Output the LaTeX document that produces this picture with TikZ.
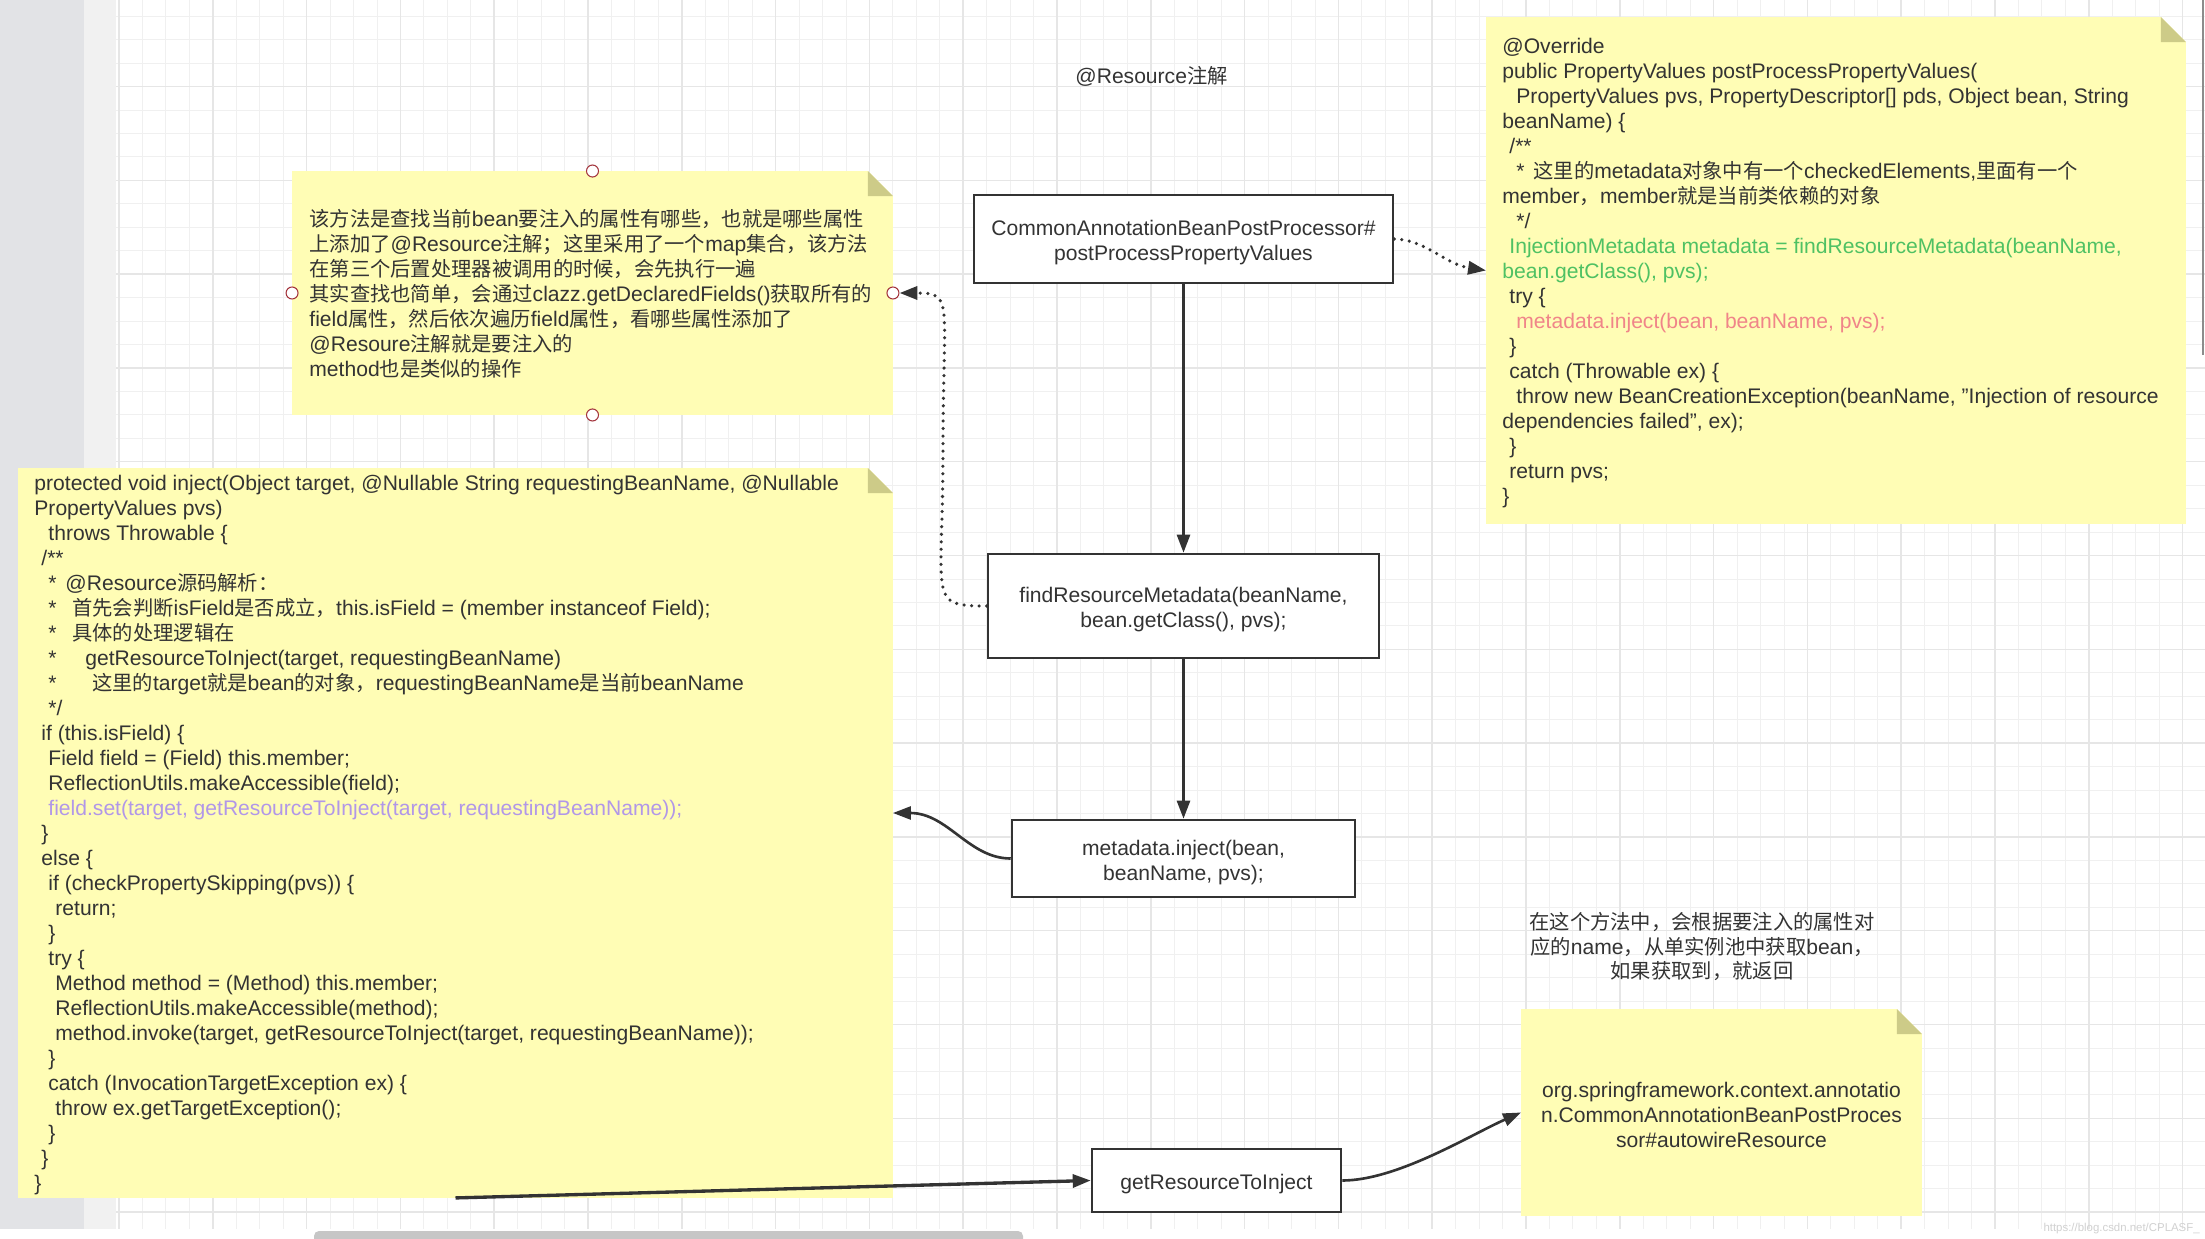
\documentclass[tikz,border=0pt]{standalone}
\usepackage{fontspec}
\setmainfont{Liberation Sans}
\newfontfamily\cjkfont[Scale=0.963]{Noto Sans CJK SC}
\newfontfamily\latinfont{Liberation Sans}
\usetikzlibrary{arrows.meta}

\definecolor{textgray}{HTML}{333333}
\definecolor{linegray}{HTML}{333333}
\definecolor{notefill}{HTML}{FFFDB5}
\definecolor{foldfill}{HTML}{CDCB88}
\definecolor{portred}{HTML}{A3343C}
\definecolor{codegreen}{HTML}{4FC163}
\definecolor{codepink}{HTML}{F08589}
\definecolor{codepurple}{HTML}{B197E8}
\definecolor{minorgrid}{HTML}{F0F0F0}
\definecolor{majorgrid}{HTML}{E6E6E6}
\definecolor{stripgray}{HTML}{E2E3E6}
\definecolor{stripwhite}{HTML}{F1F1F1}
\definecolor{scrollgray}{HTML}{C6C6C6}

% troca de fonte para os caracteres chineses
\newcount\cjkc
\newcommand\setcjkrange[2]{\cjkc=#1\relax
  \loop\XeTeXcharclass\cjkc=7\relax\advance\cjkc by 1\relax\ifnum\cjkc<#2\relax\repeat}
\setcjkrange{"3000}{"3040}
\setcjkrange{"4E00}{"A000}
\setcjkrange{"FF00}{"FFF0}
\XeTeXinterchartoks 0 7 = {\cjkfont}
\XeTeXinterchartoks 4095 7 = {\cjkfont}
\XeTeXinterchartoks 7 0 = {\latinfont}
\XeTeXinterchartoks 7 4095 = {\latinfont}
\XeTeXinterchartokenstate=1

\newcommand\topstrut{\rule{0pt}{0.9em}}
\newcommand\boxstrut{\rule{0pt}{1.1em}}
\newcommand\indA{\hspace*{0.14cm}}
\newcommand\indB{\hspace*{0.28cm}}
\newcommand\indC{\hspace*{0.42cm}}

\begin{document}
\begin{tikzpicture}[x=0.02cm, y=-0.02cm,
    >={Triangle[length=0.36cm, width=0.26cm]},
    txt/.style={font=\fontsize{12pt}{14.226pt}\selectfont, text=textgray, inner sep=0pt},
    proc/.style={txt, draw=linegray, line width=1.5pt, fill=white, align=center},
    notebox/.style={inner sep=0pt, outer sep=0pt},
    port/.style={circle, draw=portred, fill=white, line width=0.6pt, inner sep=0pt, minimum size=0.24cm},
    link/.style={->, draw=linegray, line width=1.5pt},
    dotlink/.style={link, line width=2pt, line cap=round, dash pattern=on 0pt off 4.3pt},
    minorline/.style={draw=minorgrid, line width=0.5pt},
    majorline/.style={draw=majorgrid, line width=0.9pt}]
  \useasboundingbox (0,0) rectangle (2205,1239);
  \fill[white] (0,0) rectangle (2205,1239);

  % Fundo e grade
  \fill[stripgray] (0,0) rectangle (84,1229);
  \fill[stripwhite] (84,0) rectangle (116,1229);
  \foreach \i in {-60,...,28}
    \draw[minorline] ({1526+\i*23.45},0) -- ++(0,1229);
  \foreach \j in {-27,...,24}
    \draw[minorline] (116,{649.3+\j*23.45}) -- (2205,{649.3+\j*23.45});
  \foreach \i in {-15,...,7}
    \draw[majorline] ({1526+\i*93.8},0) -- ++(0,1229);
  \foreach \j in {-6,...,6}
    \draw[majorline] (116,{649.3+\j*93.8}) -- (2205,{649.3+\j*93.8});
  \fill[scrollgray, rounded corners=0.1cm] (314,1231) rectangle (1023,1248);
  \draw[draw=black!45, line width=0.8pt] (2203,0) -- (2203,355);

  % Notas
  \node[notebox, minimum width=12.02cm, minimum height=4.88cm] (noteA) at (592.5,293) {};
  \node[notebox, minimum width=17.5cm, minimum height=14.6cm] (noteB) at (455.5,833) {};
  \node[notebox, minimum width=14cm, minimum height=10.14cm] (noteC) at (1836,270.5) {};
  \node[notebox, minimum width=8.02cm, minimum height=4.14cm] (noteD) at (1721.5,1112.5) {};
  \foreach \n in {noteA,noteB,noteC,noteD} {
    \fill[notefill] (\n.north west) -- ([xshift=-0.5cm]\n.north east) -- ([yshift=-0.5cm]\n.north east)
      -- (\n.south east) -- (\n.south west) -- cycle;
    \fill[foldfill] ([xshift=-0.5cm]\n.north east) -- ([xshift=-0.5cm,yshift=-0.5cm]\n.north east)
      -- ([yshift=-0.5cm]\n.north east) -- cycle;
  }

  % Pontos de ligacao da primeira nota
  \foreach \a/\nm in {north/pn,south/ps,west/pw,east/pe}
    \node[port] (\nm) at (noteA.\a) {};

  % Titulo
  \node[txt] (title) at (1151.5,76) {@Resource注解};

  % Caixas
  \node[proc, minimum width=8.38cm, minimum height=1.76cm] (postproc) at (1183.5,239)
    {\boxstrut CommonAnnotationBeanPostProcessor\#\\postProcessPropertyValues};
  \node[proc, minimum width=7.82cm, minimum height=2.08cm] (findmeta) at (1183.5,606)
    {\boxstrut findResourceMetadata(beanName,\\bean.getClass(), pvs);};
  \node[proc, minimum width=6.86cm, minimum height=1.54cm] (injectmeta) at (1183.5,858.5)
    {\boxstrut metadata.inject(bean,\\beanName, pvs);};
  \node[proc, minimum width=4.98cm, minimum height=1.26cm] (getres) at (1216.5,1180.5)
    {\boxstrut getResourceToInject};

  % Textos das notas
  \node[txt, align=left, anchor=north west] (noteAtxt) at ([xshift=0.34cm,yshift=-0.73cm]noteA.north west)
    {\topstrut 该方法是查找当前bean要注入的属性有哪些，也就是哪些属性\\
     上添加了@Resource注解；这里采用了一个map集合，该方法\\
     在第三个后置处理器被调用的时候，会先执行一遍\\
     其实查找也简单，会通过clazz.getDeclaredFields()获取所有的\\
     field属性，然后依次遍历field属性，看哪些属性添加了\\
     @Resoure注解就是要注入的\\
     method也是类似的操作};

  \node[txt, align=left, anchor=north west] (noteBtxt) at ([xshift=0.32cm,yshift=-0.06cm]noteB.north west)
    {\topstrut protected void inject(Object target, @Nullable String requestingBeanName, @Nullable\\
     PropertyValues pvs)\\
     \indB throws Throwable \{\\
     \indA /**\\
     \indB\makebox[0.34cm][l]{*}@Resource源码解析：\\
     \indB\makebox[0.476cm][l]{*}首先会判断isField是否成立，this.isField = (member instanceof Field);\\
     \indB\makebox[0.476cm][l]{*}具体的处理逻辑在\\
     \indB\makebox[0.74cm][l]{*}getResourceToInject(target, requestingBeanName)\\
     \indB\makebox[0.876cm][l]{*}这里的target就是bean的对象，requestingBeanName是当前beanName\\
     \indB */\\
     \indA if (this.isField) \{\\
     \indB Field field = (Field) this.member;\\
     \indB ReflectionUtils.makeAccessible(field);\\
     \indB\textcolor{codepurple}{field.set(target, getResourceToInject(target, requestingBeanName));}\\
     \indA \}\\
     \indA else \{\\
     \indB if (checkPropertySkipping(pvs)) \{\\
     \indC return;\\
     \indB \}\\
     \indB try \{\\
     \indC Method method = (Method) this.member;\\
     \indC ReflectionUtils.makeAccessible(method);\\
     \indC method.invoke(target, getResourceToInject(target, requestingBeanName));\\
     \indB \}\\
     \indB catch (InvocationTargetException ex) \{\\
     \indC throw ex.getTargetException();\\
     \indB \}\\
     \indA \}\\
     \}};

  \node[txt, align=left, anchor=north west] (noteCtxt) at ([xshift=0.32cm,yshift=-0.35cm]noteC.north west)
    {\topstrut @Override\\
     public PropertyValues postProcessPropertyValues(\\
     \indB PropertyValues pvs, PropertyDescriptor[] pds, Object bean, String\\
     beanName) \{\\
     \indA /**\\
     \indB\makebox[0.34cm][l]{*}这里的metadata对象中有一个checkedElements,里面有一个\\
     member，member就是当前类依赖的对象\\
     \indB */\\
     \indA\textcolor{codegreen}{InjectionMetadata metadata = findResourceMetadata(beanName,}\\
     \textcolor{codegreen}{bean.getClass(), pvs);}\\
     \indA try \{\\
     \indB\textcolor{codepink}{metadata.inject(bean, beanName, pvs);}\\
     \indA \}\\
     \indA catch (Throwable ex) \{\\
     \indB throw new BeanCreationException(beanName, "Injection of resource\\
     dependencies failed", ex);\\
     \indA \}\\
     \indA return pvs;\\
     \}};

  \node[txt, align=center] (noteDtxt) at ([yshift=-0.05cm]noteD.center)
    {org.springframework.context.annotatio\\n.CommonAnnotationBeanPostProces\\sor\#autowireResource};

  \node[txt, align=center] (hint) at (1702,946.5)
    {在这个方法中，会根据要注入的属性对\\应的name，从单实例池中获取bean，\\如果获取到，就返回};

  % Setas
  \draw[link] (postproc.south) -- (findmeta.north);
  \draw[link] (findmeta.south) -- (injectmeta.north);
  \draw[dotlink] (postproc.east) .. controls +(30,0) and +(-40,-6) .. (noteC.west);
  \coordinate (bendA) at (943,450);
  \draw[dotlink] (findmeta.west) .. controls +(-60,0) and +(0,150) .. (bendA)
    .. controls +(0,-150) and +(55,0) .. (pe.east);
  \coordinate (injIn) at ([yshift=0.4cm]noteB.east);
  \draw[link] (injectmeta.west) .. controls +(-42,0) and +(55,0) .. (injIn);
  \draw[link, line width=1.9pt] (noteB.south) -- (getres.west);
  \draw[link] (getres.east) .. controls +(55,0) and +(-50,22) .. (noteD.west);

  % Marca
  \node[font=\fontsize{6.5pt}{7pt}\selectfont, text=black!18, inner sep=0pt, anchor=base east] (mark)
    at (2200,1231) {https://blog.csdn.net/CPLASF\_};
\end{tikzpicture}
\end{document}
